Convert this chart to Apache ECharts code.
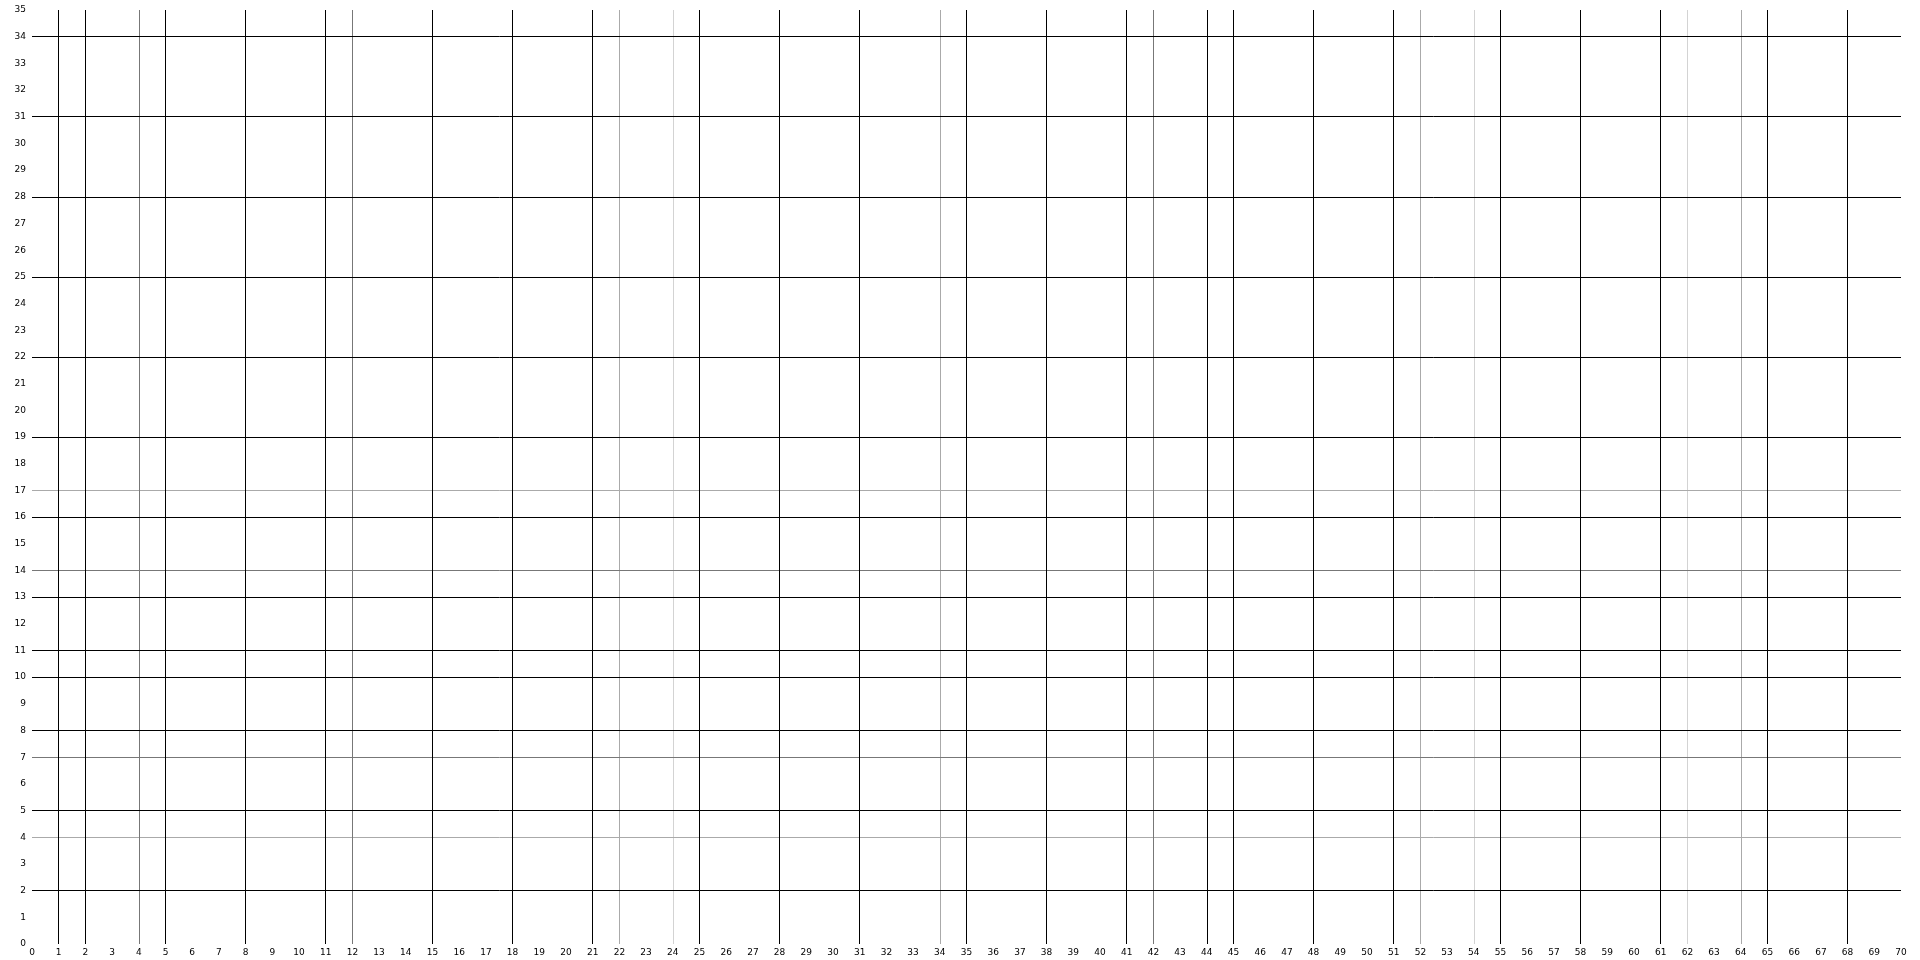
<!DOCTYPE html>
<html lang="en">
<head>
    <meta charset="UTF-8">
    <title>grid</title>
    <script src="https://cdn.jsdelivr.net/npm/echarts@6/dist/echarts.min.js"></script>
    <style>
        html, body { margin: 0; padding: 0; background: #fff; }
        #main { width: 1920px; height: 960px; }
    </style>
</head>
<body>
<div id="main"></div>
<script>
    // vertical lines (x values) by colour
    var vBlack = [1, 2, 5, 8, 11, 15, 18, 21, 25, 28, 31, 35, 38, 41, 44, 45, 48, 51, 55, 58, 61, 65, 68];
    var vGray = [4, 12, 42];
    var vLight = [22, 34, 52, 64];
    var vLighter = [24, 54, 62];

    // horizontal lines (y values) by colour
    var hBlack = [2, 5, 8, 10, 11, 13, 16, 19, 22, 25, 28, 31, 34];
    var hGray = [7, 14];
    var hLight = [4, 17];

    var xMax = 70;
    var yMax = 35;

    function lines(vals, axis, color) {
        return {
            type: 'line',
            data: [],
            silent: true,
            markLine: {
                silent: true,
                symbol: 'none',
                label: { show: false },
                lineStyle: { color: color, width: 1, type: 'solid' },
                data: vals.map(function (v) {
                    var o = {};
                    o[axis] = v;
                    return o;
                })
            }
        };
    }

    var axisLbl = { color: '#000', fontSize: 9, fontFamily: 'DejaVu Sans' };

    var myChart = echarts.init(document.getElementById('main'));
    var option = {
        animation: false,
        grid: { left: 32, right: 19, top: 10, bottom: 16, containLabel: false },
        xAxis: {
            type: 'value', min: 0, max: xMax, interval: 1,
            axisLine: { show: false }, axisTick: { show: false }, splitLine: { show: false },
            axisLabel: Object.assign({ margin: 4 }, axisLbl)
        },
        yAxis: {
            type: 'value', min: 0, max: yMax, interval: 1,
            axisLine: { show: false }, axisTick: { show: false }, splitLine: { show: false },
            axisLabel: Object.assign({ margin: 6 }, axisLbl)
        },
        series: [
            lines(vLighter, 'xAxis', '#d3d3d3'),
            lines(vLight, 'xAxis', '#aaaaaa'),
            lines(hLight, 'yAxis', '#aaaaaa'),
            lines(vGray, 'xAxis', '#777777'),
            lines(hGray, 'yAxis', '#777777'),
            lines(vBlack, 'xAxis', '#000000'),
            lines(hBlack, 'yAxis', '#000000')
        ]
    };
    myChart.setOption(option);
</script>
</body>
</html>
